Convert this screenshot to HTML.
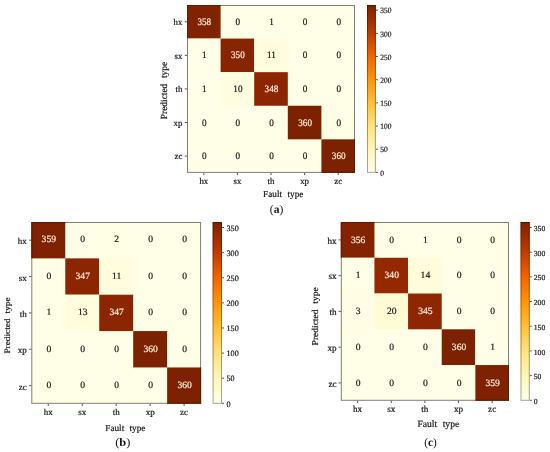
<!DOCTYPE html>
<html><head><meta charset="utf-8"><title>Confusion matrices</title>
<style>html,body{margin:0;padding:0;background:#fff}svg{display:block}</style></head>
<body>
<svg width="550" height="452" viewBox="0 0 550 452" text-rendering="geometricPrecision" font-family="'Liberation Serif', 'Times New Roman', serif">
<defs><linearGradient id="cb" x1="0" y1="1" x2="0" y2="0">
<stop offset="0.0000" stop-color="#ffffe8"/>
<stop offset="0.0278" stop-color="#fffddf"/>
<stop offset="0.0556" stop-color="#fffbd5"/>
<stop offset="0.0833" stop-color="#fffacc"/>
<stop offset="0.1111" stop-color="#fff8c2"/>
<stop offset="0.1389" stop-color="#fff6b9"/>
<stop offset="0.1667" stop-color="#fff2ad"/>
<stop offset="0.1944" stop-color="#ffeea1"/>
<stop offset="0.2222" stop-color="#ffea95"/>
<stop offset="0.2500" stop-color="#ffe689"/>
<stop offset="0.2778" stop-color="#ffe27d"/>
<stop offset="0.3056" stop-color="#ffdb6f"/>
<stop offset="0.3333" stop-color="#ffd461"/>
<stop offset="0.3611" stop-color="#ffce53"/>
<stop offset="0.3889" stop-color="#ffc745"/>
<stop offset="0.4167" stop-color="#ffc037"/>
<stop offset="0.4444" stop-color="#ffb72e"/>
<stop offset="0.4722" stop-color="#ffae25"/>
<stop offset="0.5000" stop-color="#ffa61c"/>
<stop offset="0.5278" stop-color="#ff9d13"/>
<stop offset="0.5556" stop-color="#ff940a"/>
<stop offset="0.5833" stop-color="#fc8a08"/>
<stop offset="0.6111" stop-color="#fa8106"/>
<stop offset="0.6389" stop-color="#f77704"/>
<stop offset="0.6667" stop-color="#f56e02"/>
<stop offset="0.6944" stop-color="#f26400"/>
<stop offset="0.7222" stop-color="#e85c00"/>
<stop offset="0.7500" stop-color="#dd5401"/>
<stop offset="0.7778" stop-color="#d34c01"/>
<stop offset="0.8056" stop-color="#c84402"/>
<stop offset="0.8333" stop-color="#be3c02"/>
<stop offset="0.8611" stop-color="#b43702"/>
<stop offset="0.8889" stop-color="#a93202"/>
<stop offset="0.9167" stop-color="#9e2d01"/>
<stop offset="0.9444" stop-color="#942801"/>
<stop offset="0.9722" stop-color="#882501"/>
<stop offset="1.0000" stop-color="#7d2201"/>
</linearGradient></defs>
<rect width="550" height="452" fill="#ffffff"/>
<!-- panel a -->
<rect x="187.00" y="5.00" width="168.00" height="167.90" fill="#ffffe8"/>
<rect x="187.00" y="5.00" width="33.60" height="33.58" fill="#7f2301"/>
<rect x="254.20" y="5.00" width="33.60" height="33.58" fill="#ffffe7"/>
<rect x="187.00" y="38.58" width="33.60" height="33.58" fill="#ffffe7"/>
<rect x="220.60" y="38.58" width="33.60" height="33.58" fill="#882501"/>
<rect x="254.20" y="38.58" width="33.60" height="33.58" fill="#fffdde"/>
<rect x="187.00" y="72.16" width="33.60" height="33.58" fill="#ffffe7"/>
<rect x="220.60" y="72.16" width="33.60" height="33.58" fill="#fffddf"/>
<rect x="254.20" y="72.16" width="33.60" height="33.58" fill="#8b2601"/>
<rect x="287.80" y="105.74" width="33.60" height="33.58" fill="#7d2201"/>
<rect x="321.40" y="139.32" width="33.60" height="33.58" fill="#7d2201"/>
<rect x="187.50" y="5.50" width="167.00" height="166.90" fill="none" stroke="rgba(0,0,0,0.5)" stroke-width="1"/>
<path d="M187.50 38.58V5.50H220.60" fill="none" stroke="#7f2301" stroke-opacity="0.55" stroke-width="1"/>
<path d="M354.50 139.32V172.40H321.40" fill="none" stroke="#7d2201" stroke-opacity="0.55" stroke-width="1"/>
<rect x="367.00" y="5.00" width="8.90" height="167.90" fill="url(#cb)"/>
<rect x="367.50" y="5.50" width="7.90" height="166.90" fill="none" stroke="rgba(0,0,0,0.35)" stroke-width="1"/>
<line x1="203.80" y1="172.90" x2="203.80" y2="175.10" stroke="rgba(0,0,0,0.85)" stroke-width="0.8"/>
<line x1="184.80" y1="21.79" x2="187.00" y2="21.79" stroke="rgba(0,0,0,0.85)" stroke-width="0.8"/>
<line x1="237.40" y1="172.90" x2="237.40" y2="175.10" stroke="rgba(0,0,0,0.85)" stroke-width="0.8"/>
<line x1="184.80" y1="55.37" x2="187.00" y2="55.37" stroke="rgba(0,0,0,0.85)" stroke-width="0.8"/>
<line x1="271.00" y1="172.90" x2="271.00" y2="175.10" stroke="rgba(0,0,0,0.85)" stroke-width="0.8"/>
<line x1="184.80" y1="88.95" x2="187.00" y2="88.95" stroke="rgba(0,0,0,0.85)" stroke-width="0.8"/>
<line x1="304.60" y1="172.90" x2="304.60" y2="175.10" stroke="rgba(0,0,0,0.85)" stroke-width="0.8"/>
<line x1="184.80" y1="122.53" x2="187.00" y2="122.53" stroke="rgba(0,0,0,0.85)" stroke-width="0.8"/>
<line x1="338.20" y1="172.90" x2="338.20" y2="175.10" stroke="rgba(0,0,0,0.85)" stroke-width="0.8"/>
<line x1="184.80" y1="156.11" x2="187.00" y2="156.11" stroke="rgba(0,0,0,0.85)" stroke-width="0.8"/>
<line x1="375.90" y1="172.40" x2="377.90" y2="172.40" stroke="rgba(0,0,0,0.85)" stroke-width="0.8"/>
<line x1="375.90" y1="149.22" x2="377.90" y2="149.22" stroke="rgba(0,0,0,0.85)" stroke-width="0.8"/>
<line x1="375.90" y1="126.04" x2="377.90" y2="126.04" stroke="rgba(0,0,0,0.85)" stroke-width="0.8"/>
<line x1="375.90" y1="102.86" x2="377.90" y2="102.86" stroke="rgba(0,0,0,0.85)" stroke-width="0.8"/>
<line x1="375.90" y1="79.68" x2="377.90" y2="79.68" stroke="rgba(0,0,0,0.85)" stroke-width="0.8"/>
<line x1="375.90" y1="56.50" x2="377.90" y2="56.50" stroke="rgba(0,0,0,0.85)" stroke-width="0.8"/>
<line x1="375.90" y1="33.32" x2="377.90" y2="33.32" stroke="rgba(0,0,0,0.85)" stroke-width="0.8"/>
<line x1="375.90" y1="10.14" x2="377.90" y2="10.14" stroke="rgba(0,0,0,0.85)" stroke-width="0.8"/>
<g fill="#161616" stroke="#161616" stroke-width="0.2">
<text x="203.80" y="184.30" font-size="8.8" text-anchor="middle">hx</text>
<text x="182.40" y="25.09" font-size="8.8" text-anchor="end">hx</text>
<text x="237.40" y="184.30" font-size="8.8" text-anchor="middle">sx</text>
<text x="182.40" y="58.67" font-size="8.8" text-anchor="end">sx</text>
<text x="271.00" y="184.30" font-size="8.8" text-anchor="middle">th</text>
<text x="182.40" y="92.25" font-size="8.8" text-anchor="end">th</text>
<text x="304.60" y="184.30" font-size="8.8" text-anchor="middle">xp</text>
<text x="182.40" y="125.83" font-size="8.8" text-anchor="end">xp</text>
<text x="338.20" y="184.30" font-size="8.8" text-anchor="middle">zc</text>
<text x="182.40" y="159.41" font-size="8.8" text-anchor="end">zc</text>
<text transform="translate(204.30,24.79) scale(0.93,1)" font-size="9.9" text-anchor="middle" fill="#fbeedd" stroke="#fbeedd">358</text>
<text transform="translate(237.90,24.79) scale(0.93,1)" font-size="9.9" text-anchor="middle">0</text>
<text transform="translate(271.50,24.79) scale(0.93,1)" font-size="9.9" text-anchor="middle">1</text>
<text transform="translate(305.10,24.79) scale(0.93,1)" font-size="9.9" text-anchor="middle">0</text>
<text transform="translate(338.70,24.79) scale(0.93,1)" font-size="9.9" text-anchor="middle">0</text>
<text transform="translate(204.30,58.37) scale(0.93,1)" font-size="9.9" text-anchor="middle">1</text>
<text transform="translate(237.90,58.37) scale(0.93,1)" font-size="9.9" text-anchor="middle" fill="#fbeedd" stroke="#fbeedd">350</text>
<text transform="translate(271.50,58.37) scale(0.93,1)" font-size="9.9" text-anchor="middle">11</text>
<text transform="translate(305.10,58.37) scale(0.93,1)" font-size="9.9" text-anchor="middle">0</text>
<text transform="translate(338.70,58.37) scale(0.93,1)" font-size="9.9" text-anchor="middle">0</text>
<text transform="translate(204.30,91.95) scale(0.93,1)" font-size="9.9" text-anchor="middle">1</text>
<text transform="translate(237.90,91.95) scale(0.93,1)" font-size="9.9" text-anchor="middle">10</text>
<text transform="translate(271.50,91.95) scale(0.93,1)" font-size="9.9" text-anchor="middle" fill="#fbeedd" stroke="#fbeedd">348</text>
<text transform="translate(305.10,91.95) scale(0.93,1)" font-size="9.9" text-anchor="middle">0</text>
<text transform="translate(338.70,91.95) scale(0.93,1)" font-size="9.9" text-anchor="middle">0</text>
<text transform="translate(204.30,125.53) scale(0.93,1)" font-size="9.9" text-anchor="middle">0</text>
<text transform="translate(237.90,125.53) scale(0.93,1)" font-size="9.9" text-anchor="middle">0</text>
<text transform="translate(271.50,125.53) scale(0.93,1)" font-size="9.9" text-anchor="middle">0</text>
<text transform="translate(305.10,125.53) scale(0.93,1)" font-size="9.9" text-anchor="middle" fill="#fbeedd" stroke="#fbeedd">360</text>
<text transform="translate(338.70,125.53) scale(0.93,1)" font-size="9.9" text-anchor="middle">0</text>
<text transform="translate(204.30,159.11) scale(0.93,1)" font-size="9.9" text-anchor="middle">0</text>
<text transform="translate(237.90,159.11) scale(0.93,1)" font-size="9.9" text-anchor="middle">0</text>
<text transform="translate(271.50,159.11) scale(0.93,1)" font-size="9.9" text-anchor="middle">0</text>
<text transform="translate(305.10,159.11) scale(0.93,1)" font-size="9.9" text-anchor="middle">0</text>
<text transform="translate(338.70,159.11) scale(0.93,1)" font-size="9.9" text-anchor="middle" fill="#fbeedd" stroke="#fbeedd">360</text>
<text font-size="9.2" text-anchor="middle" word-spacing="3.2" transform="translate(283.20,197.20) scale(1,1)">Fault type</text>
<text font-size="9.4" text-anchor="middle" word-spacing="3.4" transform="translate(166.60,90.50) rotate(-90) scale(1,1)">Predicted type</text>
<text transform="translate(380.30,175.60) scale(0.93,1)" font-size="8">0</text>
<text transform="translate(380.30,152.42) scale(0.93,1)" font-size="8">50</text>
<text transform="translate(380.30,129.24) scale(0.93,1)" font-size="8">100</text>
<text transform="translate(380.30,106.06) scale(0.93,1)" font-size="8">150</text>
<text transform="translate(380.30,82.88) scale(0.93,1)" font-size="8">200</text>
<text transform="translate(380.30,59.70) scale(0.93,1)" font-size="8">250</text>
<text transform="translate(380.30,36.52) scale(0.93,1)" font-size="8">300</text>
<text transform="translate(380.30,13.34) scale(0.93,1)" font-size="8">350</text>
</g>
<text font-size="11.5" text-anchor="middle" fill="#161616" transform="translate(276.50,212.70) scale(1,1)">(<tspan font-weight="bold">a</tspan>)</text>
<!-- panel b -->
<rect x="31.30" y="222.00" width="169.80" height="181.80" fill="#ffffe8"/>
<rect x="31.30" y="222.00" width="33.96" height="36.36" fill="#7e2201"/>
<rect x="99.22" y="222.00" width="33.96" height="36.36" fill="#ffffe6"/>
<rect x="65.26" y="258.36" width="33.96" height="36.36" fill="#8c2601"/>
<rect x="99.22" y="258.36" width="33.96" height="36.36" fill="#fffdde"/>
<rect x="31.30" y="294.72" width="33.96" height="36.36" fill="#ffffe7"/>
<rect x="65.26" y="294.72" width="33.96" height="36.36" fill="#fffddc"/>
<rect x="99.22" y="294.72" width="33.96" height="36.36" fill="#8c2601"/>
<rect x="133.18" y="331.08" width="33.96" height="36.36" fill="#7d2201"/>
<rect x="167.14" y="367.44" width="33.96" height="36.36" fill="#7d2201"/>
<rect x="31.80" y="222.50" width="168.80" height="180.80" fill="none" stroke="rgba(0,0,0,0.5)" stroke-width="1"/>
<path d="M31.80 258.36V222.50H65.26" fill="none" stroke="#7e2201" stroke-opacity="0.55" stroke-width="1"/>
<path d="M200.60 367.44V403.30H167.14" fill="none" stroke="#7d2201" stroke-opacity="0.55" stroke-width="1"/>
<rect x="212.60" y="222.00" width="9.40" height="181.80" fill="url(#cb)"/>
<rect x="213.10" y="222.50" width="8.40" height="180.80" fill="none" stroke="rgba(0,0,0,0.35)" stroke-width="1"/>
<line x1="48.28" y1="403.80" x2="48.28" y2="406.00" stroke="rgba(0,0,0,0.85)" stroke-width="0.8"/>
<line x1="29.10" y1="240.18" x2="31.30" y2="240.18" stroke="rgba(0,0,0,0.85)" stroke-width="0.8"/>
<line x1="82.24" y1="403.80" x2="82.24" y2="406.00" stroke="rgba(0,0,0,0.85)" stroke-width="0.8"/>
<line x1="29.10" y1="276.54" x2="31.30" y2="276.54" stroke="rgba(0,0,0,0.85)" stroke-width="0.8"/>
<line x1="116.20" y1="403.80" x2="116.20" y2="406.00" stroke="rgba(0,0,0,0.85)" stroke-width="0.8"/>
<line x1="29.10" y1="312.90" x2="31.30" y2="312.90" stroke="rgba(0,0,0,0.85)" stroke-width="0.8"/>
<line x1="150.16" y1="403.80" x2="150.16" y2="406.00" stroke="rgba(0,0,0,0.85)" stroke-width="0.8"/>
<line x1="29.10" y1="349.26" x2="31.30" y2="349.26" stroke="rgba(0,0,0,0.85)" stroke-width="0.8"/>
<line x1="184.12" y1="403.80" x2="184.12" y2="406.00" stroke="rgba(0,0,0,0.85)" stroke-width="0.8"/>
<line x1="29.10" y1="385.62" x2="31.30" y2="385.62" stroke="rgba(0,0,0,0.85)" stroke-width="0.8"/>
<line x1="222.00" y1="403.30" x2="224.00" y2="403.30" stroke="rgba(0,0,0,0.85)" stroke-width="0.8"/>
<line x1="222.00" y1="378.19" x2="224.00" y2="378.19" stroke="rgba(0,0,0,0.85)" stroke-width="0.8"/>
<line x1="222.00" y1="353.08" x2="224.00" y2="353.08" stroke="rgba(0,0,0,0.85)" stroke-width="0.8"/>
<line x1="222.00" y1="327.97" x2="224.00" y2="327.97" stroke="rgba(0,0,0,0.85)" stroke-width="0.8"/>
<line x1="222.00" y1="302.86" x2="224.00" y2="302.86" stroke="rgba(0,0,0,0.85)" stroke-width="0.8"/>
<line x1="222.00" y1="277.74" x2="224.00" y2="277.74" stroke="rgba(0,0,0,0.85)" stroke-width="0.8"/>
<line x1="222.00" y1="252.63" x2="224.00" y2="252.63" stroke="rgba(0,0,0,0.85)" stroke-width="0.8"/>
<line x1="222.00" y1="227.52" x2="224.00" y2="227.52" stroke="rgba(0,0,0,0.85)" stroke-width="0.8"/>
<g fill="#161616" stroke="#161616" stroke-width="0.2">
<text x="48.28" y="415.20" font-size="9" text-anchor="middle">hx</text>
<text x="26.70" y="244.28" font-size="9" text-anchor="end">hx</text>
<text x="82.24" y="415.20" font-size="9" text-anchor="middle">sx</text>
<text x="26.70" y="280.64" font-size="9" text-anchor="end">sx</text>
<text x="116.20" y="415.20" font-size="9" text-anchor="middle">th</text>
<text x="26.70" y="317.00" font-size="9" text-anchor="end">th</text>
<text x="150.16" y="415.20" font-size="9" text-anchor="middle">xp</text>
<text x="26.70" y="353.36" font-size="9" text-anchor="end">xp</text>
<text x="184.12" y="415.20" font-size="9" text-anchor="middle">zc</text>
<text x="26.70" y="389.72" font-size="9" text-anchor="end">zc</text>
<text x="48.78" y="242.48" font-size="9.6" text-anchor="middle" fill="#fbeedd" stroke="#fbeedd">359</text>
<text x="82.74" y="242.48" font-size="9.6" text-anchor="middle">0</text>
<text x="116.70" y="242.48" font-size="9.6" text-anchor="middle">2</text>
<text x="150.66" y="242.48" font-size="9.6" text-anchor="middle">0</text>
<text x="184.62" y="242.48" font-size="9.6" text-anchor="middle">0</text>
<text x="48.78" y="278.84" font-size="9.6" text-anchor="middle">0</text>
<text x="82.74" y="278.84" font-size="9.6" text-anchor="middle" fill="#fbeedd" stroke="#fbeedd">347</text>
<text x="116.70" y="278.84" font-size="9.6" text-anchor="middle">11</text>
<text x="150.66" y="278.84" font-size="9.6" text-anchor="middle">0</text>
<text x="184.62" y="278.84" font-size="9.6" text-anchor="middle">0</text>
<text x="48.78" y="315.20" font-size="9.6" text-anchor="middle">1</text>
<text x="82.74" y="315.20" font-size="9.6" text-anchor="middle">13</text>
<text x="116.70" y="315.20" font-size="9.6" text-anchor="middle" fill="#fbeedd" stroke="#fbeedd">347</text>
<text x="150.66" y="315.20" font-size="9.6" text-anchor="middle">0</text>
<text x="184.62" y="315.20" font-size="9.6" text-anchor="middle">0</text>
<text x="48.78" y="351.56" font-size="9.6" text-anchor="middle">0</text>
<text x="82.74" y="351.56" font-size="9.6" text-anchor="middle">0</text>
<text x="116.70" y="351.56" font-size="9.6" text-anchor="middle">0</text>
<text x="150.66" y="351.56" font-size="9.6" text-anchor="middle" fill="#fbeedd" stroke="#fbeedd">360</text>
<text x="184.62" y="351.56" font-size="9.6" text-anchor="middle">0</text>
<text x="48.78" y="387.92" font-size="9.6" text-anchor="middle">0</text>
<text x="82.74" y="387.92" font-size="9.6" text-anchor="middle">0</text>
<text x="116.70" y="387.92" font-size="9.6" text-anchor="middle">0</text>
<text x="150.66" y="387.92" font-size="9.6" text-anchor="middle">0</text>
<text x="184.62" y="387.92" font-size="9.6" text-anchor="middle" fill="#fbeedd" stroke="#fbeedd">360</text>
<text font-size="9.2" text-anchor="middle" word-spacing="3" transform="translate(125.30,430.80) scale(1,1)">Fault type</text>
<text font-size="9.3" text-anchor="middle" word-spacing="2.7" transform="translate(10.10,325.50) rotate(-90) scale(1,0.9)">Predicted type</text>
<text transform="translate(226.50,406.60) scale(1,1)" font-size="8.2">0</text>
<text transform="translate(226.50,381.49) scale(1,1)" font-size="8.2">50</text>
<text transform="translate(226.50,356.38) scale(1,1)" font-size="8.2">100</text>
<text transform="translate(226.50,331.27) scale(1,1)" font-size="8.2">150</text>
<text transform="translate(226.50,306.16) scale(1,1)" font-size="8.2">200</text>
<text transform="translate(226.50,281.04) scale(1,1)" font-size="8.2">250</text>
<text transform="translate(226.50,255.93) scale(1,1)" font-size="8.2">300</text>
<text transform="translate(226.50,230.82) scale(1,1)" font-size="8.2">350</text>
</g>
<text font-size="11.5" text-anchor="middle" fill="#161616" transform="translate(122.80,445.70) scale(1.08,1)">(<tspan font-weight="bold">b</tspan>)</text>
<!-- panel c -->
<rect x="340.80" y="222.00" width="168.20" height="178.80" fill="#ffffe8"/>
<rect x="340.80" y="222.00" width="33.64" height="35.76" fill="#822301"/>
<rect x="408.08" y="222.00" width="33.64" height="35.76" fill="#ffffe7"/>
<rect x="340.80" y="257.76" width="33.64" height="35.76" fill="#ffffe7"/>
<rect x="374.44" y="257.76" width="33.64" height="35.76" fill="#942801"/>
<rect x="408.08" y="257.76" width="33.64" height="35.76" fill="#fffcdb"/>
<rect x="340.80" y="293.52" width="33.64" height="35.76" fill="#fffee5"/>
<rect x="374.44" y="293.52" width="33.64" height="35.76" fill="#fffbd5"/>
<rect x="408.08" y="293.52" width="33.64" height="35.76" fill="#8e2601"/>
<rect x="441.72" y="329.28" width="33.64" height="35.76" fill="#7d2201"/>
<rect x="475.36" y="329.28" width="33.64" height="35.76" fill="#ffffe7"/>
<rect x="475.36" y="365.04" width="33.64" height="35.76" fill="#7e2201"/>
<rect x="341.30" y="222.50" width="167.20" height="177.80" fill="none" stroke="rgba(0,0,0,0.5)" stroke-width="1"/>
<path d="M341.30 257.76V222.50H374.44" fill="none" stroke="#822301" stroke-opacity="0.55" stroke-width="1"/>
<path d="M508.50 365.04V400.30H475.36" fill="none" stroke="#7e2201" stroke-opacity="0.55" stroke-width="1"/>
<rect x="520.50" y="222.00" width="9.30" height="178.80" fill="url(#cb)"/>
<rect x="521.00" y="222.50" width="8.30" height="177.80" fill="none" stroke="rgba(0,0,0,0.35)" stroke-width="1"/>
<line x1="357.62" y1="400.80" x2="357.62" y2="403.00" stroke="rgba(0,0,0,0.85)" stroke-width="0.8"/>
<line x1="338.60" y1="239.88" x2="340.80" y2="239.88" stroke="rgba(0,0,0,0.85)" stroke-width="0.8"/>
<line x1="391.26" y1="400.80" x2="391.26" y2="403.00" stroke="rgba(0,0,0,0.85)" stroke-width="0.8"/>
<line x1="338.60" y1="275.64" x2="340.80" y2="275.64" stroke="rgba(0,0,0,0.85)" stroke-width="0.8"/>
<line x1="424.90" y1="400.80" x2="424.90" y2="403.00" stroke="rgba(0,0,0,0.85)" stroke-width="0.8"/>
<line x1="338.60" y1="311.40" x2="340.80" y2="311.40" stroke="rgba(0,0,0,0.85)" stroke-width="0.8"/>
<line x1="458.54" y1="400.80" x2="458.54" y2="403.00" stroke="rgba(0,0,0,0.85)" stroke-width="0.8"/>
<line x1="338.60" y1="347.16" x2="340.80" y2="347.16" stroke="rgba(0,0,0,0.85)" stroke-width="0.8"/>
<line x1="492.18" y1="400.80" x2="492.18" y2="403.00" stroke="rgba(0,0,0,0.85)" stroke-width="0.8"/>
<line x1="338.60" y1="382.92" x2="340.80" y2="382.92" stroke="rgba(0,0,0,0.85)" stroke-width="0.8"/>
<line x1="529.80" y1="400.30" x2="531.80" y2="400.30" stroke="rgba(0,0,0,0.85)" stroke-width="0.8"/>
<line x1="529.80" y1="375.61" x2="531.80" y2="375.61" stroke="rgba(0,0,0,0.85)" stroke-width="0.8"/>
<line x1="529.80" y1="350.91" x2="531.80" y2="350.91" stroke="rgba(0,0,0,0.85)" stroke-width="0.8"/>
<line x1="529.80" y1="326.22" x2="531.80" y2="326.22" stroke="rgba(0,0,0,0.85)" stroke-width="0.8"/>
<line x1="529.80" y1="301.52" x2="531.80" y2="301.52" stroke="rgba(0,0,0,0.85)" stroke-width="0.8"/>
<line x1="529.80" y1="276.83" x2="531.80" y2="276.83" stroke="rgba(0,0,0,0.85)" stroke-width="0.8"/>
<line x1="529.80" y1="252.13" x2="531.80" y2="252.13" stroke="rgba(0,0,0,0.85)" stroke-width="0.8"/>
<line x1="529.80" y1="227.44" x2="531.80" y2="227.44" stroke="rgba(0,0,0,0.85)" stroke-width="0.8"/>
<g fill="#161616" stroke="#161616" stroke-width="0.2">
<text x="357.62" y="411.70" font-size="9.2" text-anchor="middle">hx</text>
<text x="336.60" y="243.58" font-size="9.2" text-anchor="end">hx</text>
<text x="391.26" y="411.70" font-size="9.2" text-anchor="middle">sx</text>
<text x="336.60" y="279.34" font-size="9.2" text-anchor="end">sx</text>
<text x="424.90" y="411.70" font-size="9.2" text-anchor="middle">th</text>
<text x="336.60" y="315.10" font-size="9.2" text-anchor="end">th</text>
<text x="458.54" y="411.70" font-size="9.2" text-anchor="middle">xp</text>
<text x="336.60" y="350.86" font-size="9.2" text-anchor="end">xp</text>
<text x="492.18" y="411.70" font-size="9.2" text-anchor="middle">zc</text>
<text x="336.60" y="386.62" font-size="9.2" text-anchor="end">zc</text>
<text x="358.12" y="242.68" font-size="9.6" text-anchor="middle" fill="#fbeedd" stroke="#fbeedd">356</text>
<text x="391.76" y="242.68" font-size="9.6" text-anchor="middle">0</text>
<text x="425.40" y="242.68" font-size="9.6" text-anchor="middle">1</text>
<text x="459.04" y="242.68" font-size="9.6" text-anchor="middle">0</text>
<text x="492.68" y="242.68" font-size="9.6" text-anchor="middle">0</text>
<text x="358.12" y="278.44" font-size="9.6" text-anchor="middle">1</text>
<text x="391.76" y="278.44" font-size="9.6" text-anchor="middle" fill="#fbeedd" stroke="#fbeedd">340</text>
<text x="425.40" y="278.44" font-size="9.6" text-anchor="middle">14</text>
<text x="459.04" y="278.44" font-size="9.6" text-anchor="middle">0</text>
<text x="492.68" y="278.44" font-size="9.6" text-anchor="middle">0</text>
<text x="358.12" y="314.20" font-size="9.6" text-anchor="middle">3</text>
<text x="391.76" y="314.20" font-size="9.6" text-anchor="middle">20</text>
<text x="425.40" y="314.20" font-size="9.6" text-anchor="middle" fill="#fbeedd" stroke="#fbeedd">345</text>
<text x="459.04" y="314.20" font-size="9.6" text-anchor="middle">0</text>
<text x="492.68" y="314.20" font-size="9.6" text-anchor="middle">0</text>
<text x="358.12" y="349.96" font-size="9.6" text-anchor="middle">0</text>
<text x="391.76" y="349.96" font-size="9.6" text-anchor="middle">0</text>
<text x="425.40" y="349.96" font-size="9.6" text-anchor="middle">0</text>
<text x="459.04" y="349.96" font-size="9.6" text-anchor="middle" fill="#fbeedd" stroke="#fbeedd">360</text>
<text x="492.68" y="349.96" font-size="9.6" text-anchor="middle">1</text>
<text x="358.12" y="385.72" font-size="9.6" text-anchor="middle">0</text>
<text x="391.76" y="385.72" font-size="9.6" text-anchor="middle">0</text>
<text x="425.40" y="385.72" font-size="9.6" text-anchor="middle">0</text>
<text x="459.04" y="385.72" font-size="9.6" text-anchor="middle">0</text>
<text x="492.68" y="385.72" font-size="9.6" text-anchor="middle" fill="#fbeedd" stroke="#fbeedd">359</text>
<text font-size="9.6" text-anchor="middle" word-spacing="3.2" transform="translate(438.30,426.80) scale(1,1)">Fault type</text>
<text font-size="9.5" text-anchor="middle" word-spacing="3.4" transform="translate(317.80,316.40) rotate(-90) scale(1,0.94)">Predicted type</text>
<text transform="translate(533.70,403.90) scale(1,1)" font-size="7.7">0</text>
<text transform="translate(533.70,379.21) scale(1,1)" font-size="7.7">50</text>
<text transform="translate(533.70,354.51) scale(1,1)" font-size="7.7">100</text>
<text transform="translate(533.70,329.82) scale(1,1)" font-size="7.7">150</text>
<text transform="translate(533.70,305.12) scale(1,1)" font-size="7.7">200</text>
<text transform="translate(533.70,280.43) scale(1,1)" font-size="7.7">250</text>
<text transform="translate(533.70,255.73) scale(1,1)" font-size="7.7">300</text>
<text transform="translate(533.70,231.04) scale(1,1)" font-size="7.7">350</text>
</g>
<text font-size="11.5" text-anchor="middle" fill="#161616" transform="translate(430.40,446.10) scale(0.98,1)">(<tspan font-weight="bold">c</tspan>)</text>
</svg>
</body></html>
